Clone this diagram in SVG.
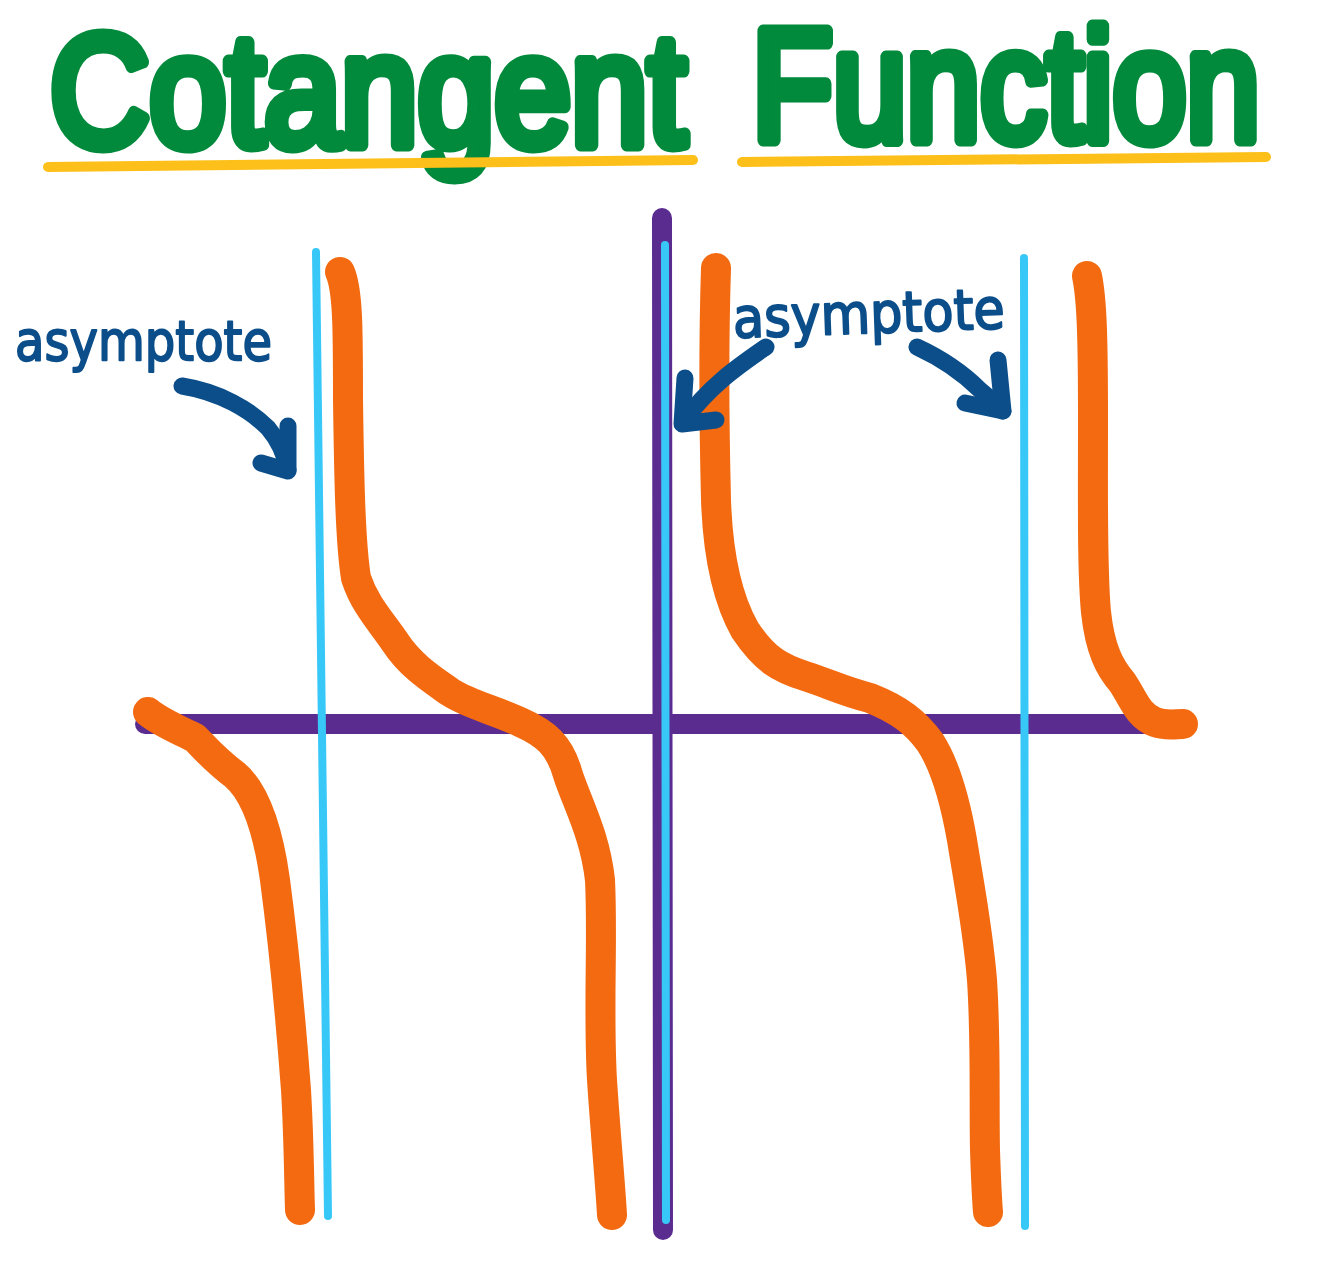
<svg xmlns="http://www.w3.org/2000/svg" width="1322" height="1273" viewBox="0 0 1322 1273">
<style>
.title{font-family:"Liberation Sans",Arial,sans-serif;font-weight:normal;font-size:158px;fill:#028A3C;stroke:#028A3C;stroke-width:13;stroke-linejoin:round;stroke-linecap:round}
.ul{stroke:#FDC01A;stroke-width:10;stroke-linecap:round;fill:none}
.axis{stroke:#5B2C90;stroke-width:20;stroke-linecap:round;fill:none}
.asym{stroke:#38C8F8;stroke-width:8;stroke-linecap:round;fill:none}
.curve{stroke:#F46A10;stroke-width:30;stroke-linecap:round;stroke-linejoin:round;fill:none}
.arrow{stroke:#0B4E8A;stroke-width:17;stroke-linecap:round;stroke-linejoin:round;fill:none}
.lbl{font-family:"DejaVu Sans","Liberation Sans",sans-serif;font-size:56px;fill:#0B4E8A;stroke:#0B4E8A;stroke-width:2;stroke-linejoin:round}
</style>
<rect width="1322" height="1273" fill="#ffffff"/>
<g id="title">
<text class="title" x="50" y="145" textLength="636" lengthAdjust="spacingAndGlyphs">Cotangent</text>
<text class="title" x="752" y="140" textLength="508" lengthAdjust="spacingAndGlyphs">Function</text>
<line class="ul" x1="48" y1="167" x2="693" y2="160"/>
<line class="ul" x1="742" y1="162" x2="1266" y2="157"/>
</g>
<g id="axes">
<line class="axis" x1="145" y1="724" x2="1183" y2="724"/>
<line class="axis" x1="662" y1="218" x2="663" y2="1230"/>
</g>
<g id="asymptotes">
<line class="asym" x1="316" y1="252" x2="328" y2="1216"/>
<line class="asym" x1="665" y1="245" x2="666" y2="1220"/>
<line class="asym" x1="1024" y1="258" x2="1025" y2="1226"/>
</g>
<g id="curves">
<path class="curve" d="M148,712 C160,722 175,728 195,738 C205,748 215,760 235,775 C255,792 268,830 275,880 C283,940 290,1010 296,1090 C299,1140 299,1180 300,1210"/>
<path class="curve" d="M340,272 C348,290 348,330 348,400 C349,470 350,540 356,578 C365,605 380,620 395,642 C410,665 430,678 450,692 C470,705 495,710 520,722 C545,733 560,745 568,775 C578,805 595,835 600,880 C603,940 598,1010 602,1080 C606,1140 610,1180 612,1215"/>
<path class="curve" d="M716,268 C714,330 714,420 716,500 C718,560 728,600 745,630 C765,660 780,668 805,676 C830,684 840,690 870,698 C900,710 915,722 930,742 C945,765 955,800 962,840 C970,890 978,930 982,980 C986,1040 984,1100 985,1150 C986,1180 987,1200 988,1212"/>
<path class="curve" d="M1087,276 C1092,300 1093,340 1093,420 C1093,500 1092,570 1096,612 C1100,650 1110,668 1122,682 C1133,698 1138,716 1155,722 C1165,726 1175,724 1183,724"/>
</g>
<g id="label-left">
<text class="lbl" x="15" y="360" textLength="257" lengthAdjust="spacingAndGlyphs">asymptote</text>
<path class="arrow" d="M182,386 C220,392 250,410 268,428 C280,442 285,455 288,470"/>
<path class="arrow" d="M261,463 L288,471 L288,426"/>
</g>
<g id="label-right">
<text class="lbl" x="733" y="333" textLength="272" lengthAdjust="spacingAndGlyphs" transform="rotate(-2 870 320)">asymptote</text>
<path class="arrow" d="M766,347 C740,365 710,385 683,422"/>
<path class="arrow" d="M685,378 L682,424 L716,420"/>
<path class="arrow" d="M917,347 C945,360 965,375 980,390 C992,400 998,405 1003,411"/>
<path class="arrow" d="M965,403 L1003,411 L998,360"/>
</g>
</svg>
